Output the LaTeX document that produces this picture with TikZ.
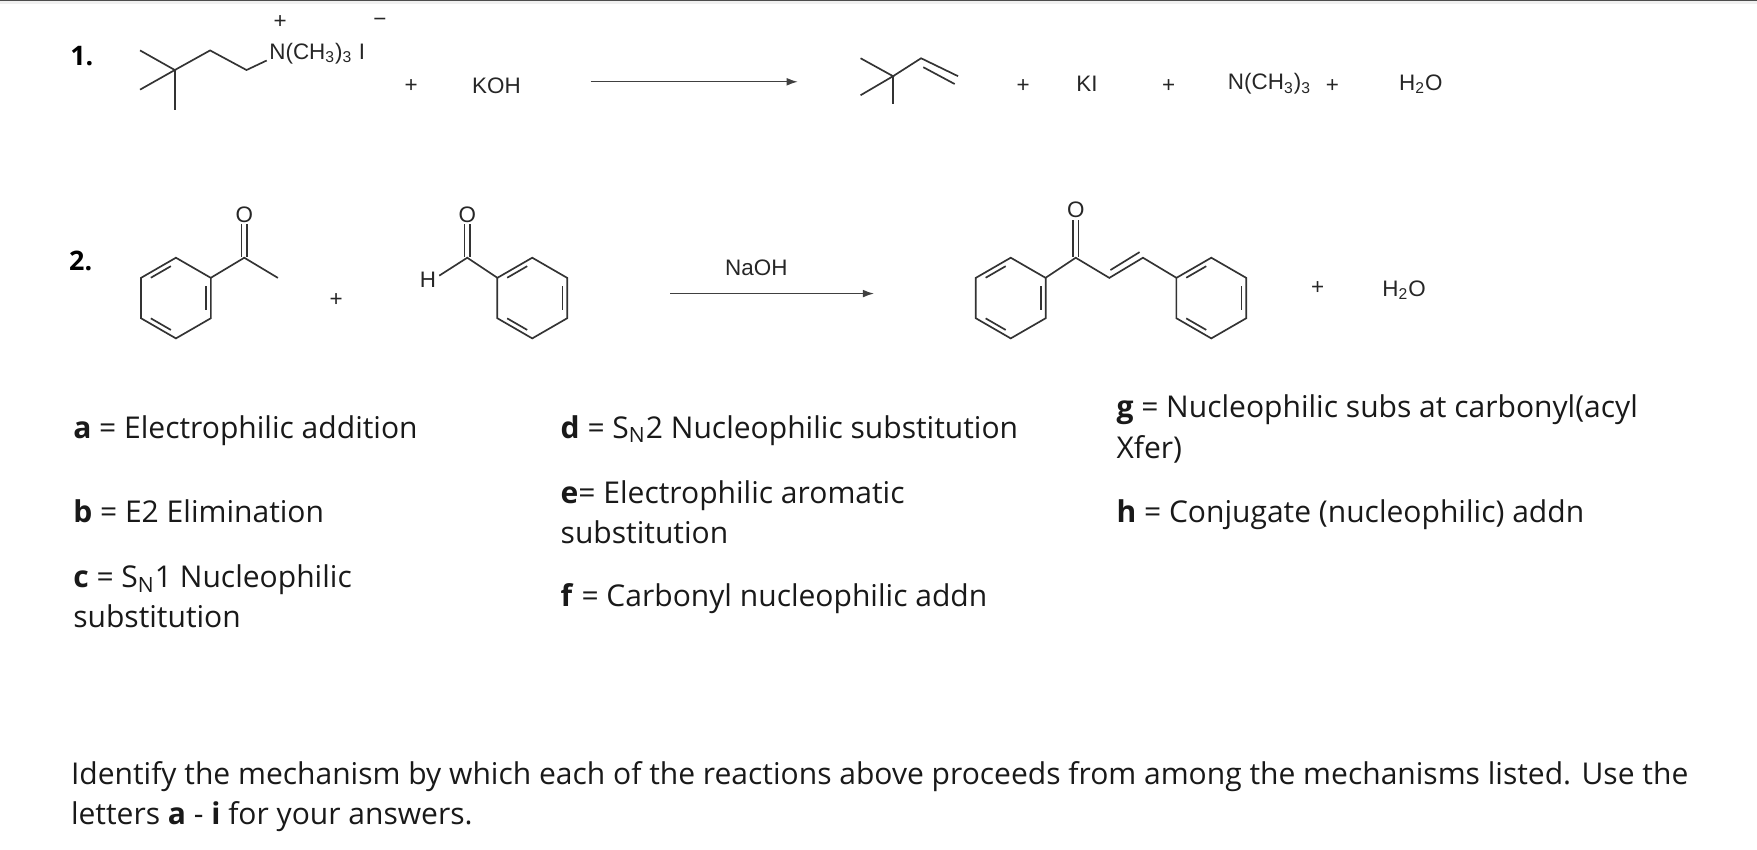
\documentclass[tikz,border=0pt]{standalone}
\usepackage{fontspec}
\setmainfont{Open Sans}
\newfontfamily\chemf{Liberation Sans}
\usetikzlibrary{arrows.meta,calc}
\newcommand{\mybenz}[3]{%
  \draw[bond] ($(#1,#2)+(90:#3)$) foreach \k in {1,...,5} {-- ($(#1,#2)+(90+60*\k:#3)$)} -- cycle;
  \foreach \a in {-30,90,210} {\draw[bond] ($(#1,#2)+(\a+9:0.8*#3)$) -- ($(#1,#2)+(\a+51:0.8*#3)$);}
}
\newcommand{\mylines}[1]{\begin{tabular}[t]{@{}l@{}}#1\end{tabular}}
\tikzset{
  bond/.style={line width=0.75pt, draw=black!80},
  chem/.style={font=\chemf\fontsize{10}{12}\selectfont, inner sep=0pt, text=black!85},
  txt/.style={font=\fontsize{13.4}{18}\selectfont, anchor=base west, inner sep=0pt, text=black!90},
  num/.style={font=\bfseries\fontsize{12}{14}\selectfont, inner sep=0pt},
  rarrow/.style={line width=0.6pt, draw=black!75, -{Latex[length=5pt,width=3.5pt]}}
}
\begin{document}
\begin{tikzpicture}[x=0.5pt,y=-0.5pt]
\useasboundingbox (0,0) rectangle (1568,758);
\fill[black!6] (0,0) rectangle (1568,4);
\draw[black!70, line width=0.6pt] (0,0.3) -- (1568,0.3);
% reaction 1
\node[num] (n1) at (73,50) {1.};
\draw[bond] (125,45) -- (156,62.5) -- (125,80);
\draw[bond] (156,62.5) -- (156,98);
\draw[bond] (156,62.5) -- (187.5,45) -- (220,62.5) -- (238,54);
\node[chem, anchor=west] (nme) at (240,48) {N(CH\textsubscript{3})\textsubscript{3} I};
\node[chem] (pl0) at (250,20) {+};
\node[chem] (mi0) at (339,20) {\textminus};
\node[chem] (p1) at (367,77) {+};
\node[chem] (koh) at (443,77) {KOH};
\coordinate (a1s) at (527,73);
\coordinate (a1e) at (712,73);
\draw[rarrow] (a1s) -- (a1e);
\draw[bond] (768,52) -- (797,68) -- (768,85);
\draw[bond] (797,68) -- (797,93);
\draw[bond] (797,68) -- (822,52) -- (855,68);
\draw[bond] (824,60) -- (852,75);
\node[chem] (p2) at (913,77) {+};
\node[chem] (ki) at (970,75) {KI};
\node[chem] (p3) at (1043,77) {+};
\node[chem] (nme3) at (1133,75) {N(CH\textsubscript{3})\textsubscript{3}};
\node[chem] (p4) at (1189,77) {+};
\node[chem] (h2o1) at (1268,75) {H\textsubscript{2}O};
% reaction 2
\node[num] (n2) at (72,233) {2.};
\mybenz{157}{266}{36}
\draw[bond] (188,248) -- (218,230) -- (248,248);
\draw[bond] (215.5,229) -- (215.5,200);
\draw[bond] (220.5,229) -- (220.5,200);
\node[chem] (o1) at (218,192) {O};
\node[chem] (p5) at (300,268) {+};
\mybenz{475}{266}{36}
\draw[bond] (444,248) -- (417,230) -- (392,246);
\draw[bond] (414.5,229) -- (414.5,200);
\draw[bond] (419.5,229) -- (419.5,200);
\node[chem] (o2) at (417,192) {O};
\node[chem] (h) at (382,250) {H};
\coordinate (a2s) at (598,262);
\coordinate (a2e) at (780,262);
\draw[rarrow] (a2s) -- (a2e);
\node[chem] (naoh) at (675,239) {NaOH};
\mybenz{902}{266}{36}
\draw[bond] (933,248) -- (960,230) -- (990,248) -- (1020,230) -- (1050,248);
\draw[bond] (991,241) -- (1017,225);
\draw[bond] (957.5,229) -- (957.5,196);
\draw[bond] (962.5,229) -- (962.5,196);
\node[chem] (o3) at (960,187) {O};
\mybenz{1081}{266}{36}
\node[chem] (p6) at (1176,257) {+};
\node[chem] (h2o2) at (1253,259) {H\textsubscript{2}O};
% list
\node[txt] (a) at (65,391) {\textbf{a} = Electrophilic addition};
\node[txt] (b) at (65,466) {\textbf{b} = E2 Elimination};
\node[txt] (c) at (65,524) {\mylines{\textbf{c} = S\textsubscript{N}1 Nucleophilic\\substitution}};
\node[txt] (d) at (500,391) {\textbf{d} = S\textsubscript{N}2 Nucleophilic substitution};
\node[txt] (e) at (500,449) {\mylines{\textbf{e}= Electrophilic aromatic\\substitution}};
\node[txt] (f) at (500,541) {\textbf{f} = Carbonyl nucleophilic addn};
\node[txt] (g) at (996,373) {\mylines{\textbf{g} = Nucleophilic subs at carbonyl(acyl\\Xfer)}};
\node[txt] (hh) at (996,466) {\textbf{h} = Conjugate (nucleophilic) addn};
\node[txt] (q) at (63,700) {\mylines{Identify the mechanism by which each of the reactions above proceeds from among the mechanisms listed. Use the\\letters \textbf{a} - \textbf{i} for your answers.}};
\end{tikzpicture}
\end{document}
